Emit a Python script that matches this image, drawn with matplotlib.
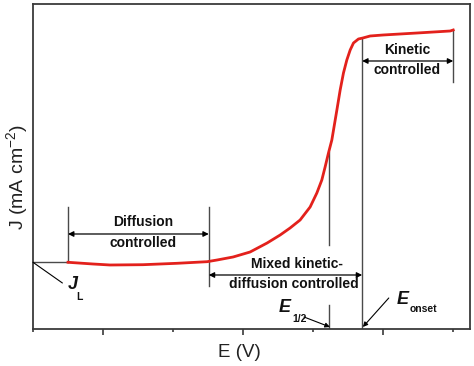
import matplotlib
matplotlib.use("Agg")
import matplotlib.pyplot as plt
from matplotlib.ticker import FixedLocator, NullFormatter

plt.rcParams.update({
    "font.family": ["Liberation Sans", "DejaVu Sans"],
    "mathtext.default": "regular",
})

# LSV curve (arbitrary units)
E = [0.500, 0.857, 1.100, 1.571, 2.057, 2.486, 2.629, 2.857, 3.100, 3.343,
     3.529, 3.671, 3.814, 3.957, 4.053, 4.124, 4.171, 4.219, 4.267, 4.339,
     4.386, 4.433, 4.481, 4.529, 4.576, 4.647, 4.710, 4.814, 5.000, 5.486,
     5.957, 6.000]
J = [0.667, 0.650, 0.640, 0.643, 0.657, 0.673, 0.690, 0.720, 0.770, 0.860,
     0.940, 1.010, 1.090, 1.220, 1.360, 1.490, 1.620, 1.760, 1.890, 2.190,
     2.390, 2.560, 2.690, 2.790, 2.860, 2.900, 2.910, 2.930, 2.940, 2.960,
     2.980, 2.990]

# characteristic points
J_L = 0.667
E_diff = [0.50, 2.51]
E_half = 4.23
E_onset = 4.70
E_end = 6.00
major_ticks = [1, 3, 5]
minor_ticks = [0, 2, 4, 6]

fig = plt.figure(figsize=(4.74, 3.66), dpi=100)
ax = fig.add_axes([0.0696, 0.1011, 0.9220, 0.8880])
ax.set_xlim(0, 6.24)
ax.set_ylim(0, 3.25)

line_c = "#4a4a4a"
ax.plot(E, J, color="#e3211c", lw=2.0, zorder=5, solid_joinstyle="round")

# guide lines
ax.plot([0, E_diff[0]], [J_L, J_L], color=line_c, lw=1.0)
ax.plot([E_diff[0], E_diff[0]], [J_L, 1.22], color=line_c, lw=1.0)
ax.plot([E_diff[1], E_diff[1]], [0.43, 1.22], color=line_c, lw=1.0)
ax.plot([E_half, E_half], [0.84, 1.77], color=line_c, lw=1.0)
ax.plot([E_half, E_half], [0.0, 0.24], color=line_c, lw=1.0)
ax.plot([E_onset, E_onset], [0.0, 2.90], color=line_c, lw=1.0)
ax.plot([E_end, E_end], [2.47, 2.99], color=line_c, lw=1.0)

arrow = dict(arrowstyle="<|-|>", color="black", lw=0.9, mutation_scale=8,
             shrinkA=0, shrinkB=0)
ax.annotate("", xy=(E_diff[0], 0.95), xytext=(E_diff[1], 0.95), arrowprops=arrow)
ax.annotate("", xy=(E_diff[1], 0.54), xytext=(E_onset, 0.54), arrowprops=arrow)
ax.annotate("", xy=(E_onset, 2.68), xytext=(E_end, 2.68), arrowprops=arrow)

txt = dict(ha="center", va="center", fontsize=10, fontweight="bold", color="#111111")
ax.text(1.57, 1.07, "Diffusion", **txt)
ax.text(1.57, 0.86, "controlled", **txt)
ax.text(3.77, 0.65, "Mixed kinetic-", **txt)
ax.text(3.73, 0.45, "diffusion controlled", **txt)
ax.text(5.34, 2.79, "Kinetic", **txt)
ax.text(5.34, 2.59, "controlled", **txt)

# J_L label
ax.annotate("", xy=(0.0, J_L), xytext=(0.42, 0.46),
            arrowprops=dict(arrowstyle="-", color="black", lw=0.8, shrinkA=0, shrinkB=0))
lab = dict(fontweight="bold", style="italic", fontsize=13, color="#111111", va="center")
sub = dict(fontweight="bold", fontsize=7.5, color="#111111", va="center")
ax.text(0.49, 0.44, "J", ha="left", **lab)
ax.text(0.62, 0.32, "L", ha="left", **sub)

# E1/2 label
ax.text(3.51, 0.21, "E", ha="left", **lab)
ax.text(3.70, 0.10, "1/2", ha="left", **sub)
ax.annotate("", xy=(E_half + 0.01, 0.02), xytext=(3.87, 0.12),
            arrowprops=dict(arrowstyle="-|>", color="black", lw=0.8,
                            mutation_scale=7, shrinkA=0, shrinkB=0))

# E_onset label
ax.text(5.19, 0.29, "E", ha="left", **lab)
ax.text(5.38, 0.20, "onset", ha="left", **sub)
ax.annotate("", xy=(E_onset + 0.01, 0.02), xytext=(5.08, 0.31),
            arrowprops=dict(arrowstyle="-|>", color="black", lw=0.8,
                            mutation_scale=7, shrinkA=0, shrinkB=0))

# axes styling
for s in ax.spines.values():
    s.set_color("#3a3a3a")
    s.set_linewidth(1.3)
ax.xaxis.set_major_locator(FixedLocator(major_ticks))
ax.xaxis.set_minor_locator(FixedLocator(minor_ticks))
ax.xaxis.set_major_formatter(NullFormatter())
ax.tick_params(axis="x", which="major", direction="out", length=4, width=1.2, color="#3a3a3a")
ax.tick_params(axis="x", which="minor", direction="out", length=2.5, width=1.2, color="#3a3a3a")
ax.set_yticks([])

fig.text(0.506, 0.038, "E (V)", ha="center", va="center", fontsize=13.5, color="#222222")
fig.text(0.036, 0.516, "J (mA cm$^{-2}$)", ha="center", va="center", rotation=90,
         fontsize=14, color="#222222")

fig.savefig("out.png", dpi=100)
